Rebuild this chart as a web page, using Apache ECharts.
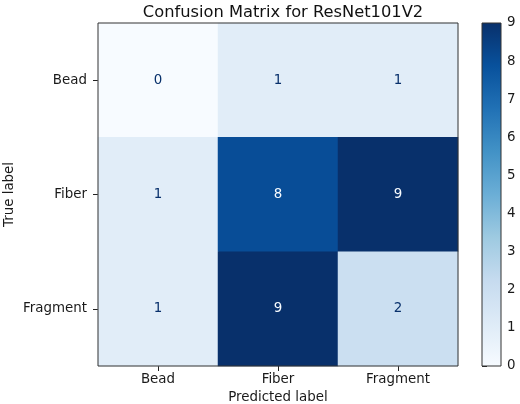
<!DOCTYPE html>
<html><head><meta charset="utf-8">
<script src="https://cdn.jsdelivr.net/npm/echarts@6/dist/echarts.min.js"></script>
<style>html,body{margin:0;padding:0;background:#fff}#c{width:520px;height:404px}</style>
</head><body><div id="c"></div>
<script>
const predictedLabels = ['Bead', 'Fiber', 'Fragment'];
const trueLabels = ['Bead', 'Fiber', 'Fragment'];
const rowBead = [0, 1, 1];
const rowFiber = [1, 8, 9];
const rowFragment = [1, 9, 2];
const colorbarTicks = [0, 1, 2, 3, 4, 5, 6, 7, 8, 9];

const blues = ['#f7fbff','#deebf7','#c6dbef','#9ecae1','#6baed6','#4292c6','#2171b5','#08519c','#08306b'];
const rows = [rowBead, rowFiber, rowFragment];
const vmin = 0, vmax = 9, thresh = (vmin + vmax) / 2;
const data = [];
rows.forEach((r, yi) => r.forEach((v, xi) => {
  data.push({ value: [xi, yi, v], label: { color: v < thresh ? '#08306b' : '#f7fbff' } });
}));

const FONT = 'DejaVu Sans';
const FS = 13.4;
const G = { left: 98, top: 23, width: 360, height: 343 };
const CB = { left: 482, top: 23, width: 19, height: 343 };

const chart = echarts.init(document.getElementById('c'), null, { renderer: 'canvas' });
chart.setOption({
  animation: false,
  textStyle: { fontFamily: FONT },
  title: {
    text: 'Confusion Matrix for ResNet101V2',
    left: G.left + G.width / 2, top: 0, textAlign: 'center',
    textStyle: { fontFamily: FONT, fontSize: 16.3, fontWeight: 'normal', color: '#111' }
  },
  grid: [
    { left: G.left, top: G.top, width: G.width, height: G.height, outerBoundsMode: 'none', containLabel: false },
    { left: CB.left, top: CB.top, width: CB.width, height: CB.height, outerBoundsMode: 'none', containLabel: false }
  ],
  xAxis: [
    {
      type: 'category', data: predictedLabels, gridIndex: 0, position: 'bottom',
      name: 'Predicted label', nameLocation: 'middle', nameGap: 24,
      nameTextStyle: { fontFamily: FONT, fontSize: FS, color: '#1a1a1a' },
      axisLine: { show: false },
      axisTick: { show: true, alignWithLabel: true, length: 5, lineStyle: { color: '#222' } },
      axisLabel: { fontFamily: FONT, fontSize: FS, color: '#1a1a1a', margin: 7 },
      splitLine: { show: false }
    },
    { type: 'value', gridIndex: 1, show: false, min: 0, max: 1 }
  ],
  yAxis: [
    {
      type: 'category', data: trueLabels, gridIndex: 0, inverse: true,
      name: 'True label', nameLocation: 'middle', nameGap: 82, nameRotate: 90,
      nameMoveOverlap: false,
      nameTextStyle: { fontFamily: FONT, fontSize: FS, color: '#1a1a1a' },
      axisLine: { show: false },
      axisTick: { show: true, alignWithLabel: true, length: 5, lineStyle: { color: '#222' } },
      axisLabel: { fontFamily: FONT, fontSize: FS, color: '#1a1a1a', margin: 11 },
      splitLine: { show: false }
    },
    {
      type: 'value', gridIndex: 1, position: 'right', min: colorbarTicks[0], max: colorbarTicks[colorbarTicks.length - 1], interval: 1,
      axisLine: { show: false },
      axisTick: { show: true, length: 5, lineStyle: { color: '#222' } },
      axisLabel: { fontFamily: FONT, fontSize: FS, color: '#1a1a1a', margin: 6 },
      splitLine: { show: false }
    }
  ],
  visualMap: {
    show: false, min: vmin, max: vmax, dimension: 2, seriesIndex: 0,
    inRange: { color: blues }
  },
  series: [{
    type: 'heatmap', xAxisIndex: 0, yAxisIndex: 0, data: data,
    label: { show: true, fontFamily: FONT, fontSize: FS },
    itemStyle: { borderWidth: 0 },
    emphasis: { disabled: true }
  }],
  graphic: [
    {
      type: 'rect', silent: true, z: 100,
      shape: { x: CB.left, y: CB.top, width: CB.width, height: CB.height },
      style: {
        fill: new echarts.graphic.LinearGradient(0, 0, 0, 1,
          blues.slice().reverse().map((c, i, a) => ({ offset: i / (a.length - 1), color: c }))),
        stroke: '#333', lineWidth: 1
      }
    },
    {
      type: 'rect', silent: true, z: 100,
      shape: { x: G.left, y: G.top, width: G.width, height: G.height },
      style: { fill: 'none', stroke: '#333', lineWidth: 1 }
    }
  ]
});
</script></body></html>
